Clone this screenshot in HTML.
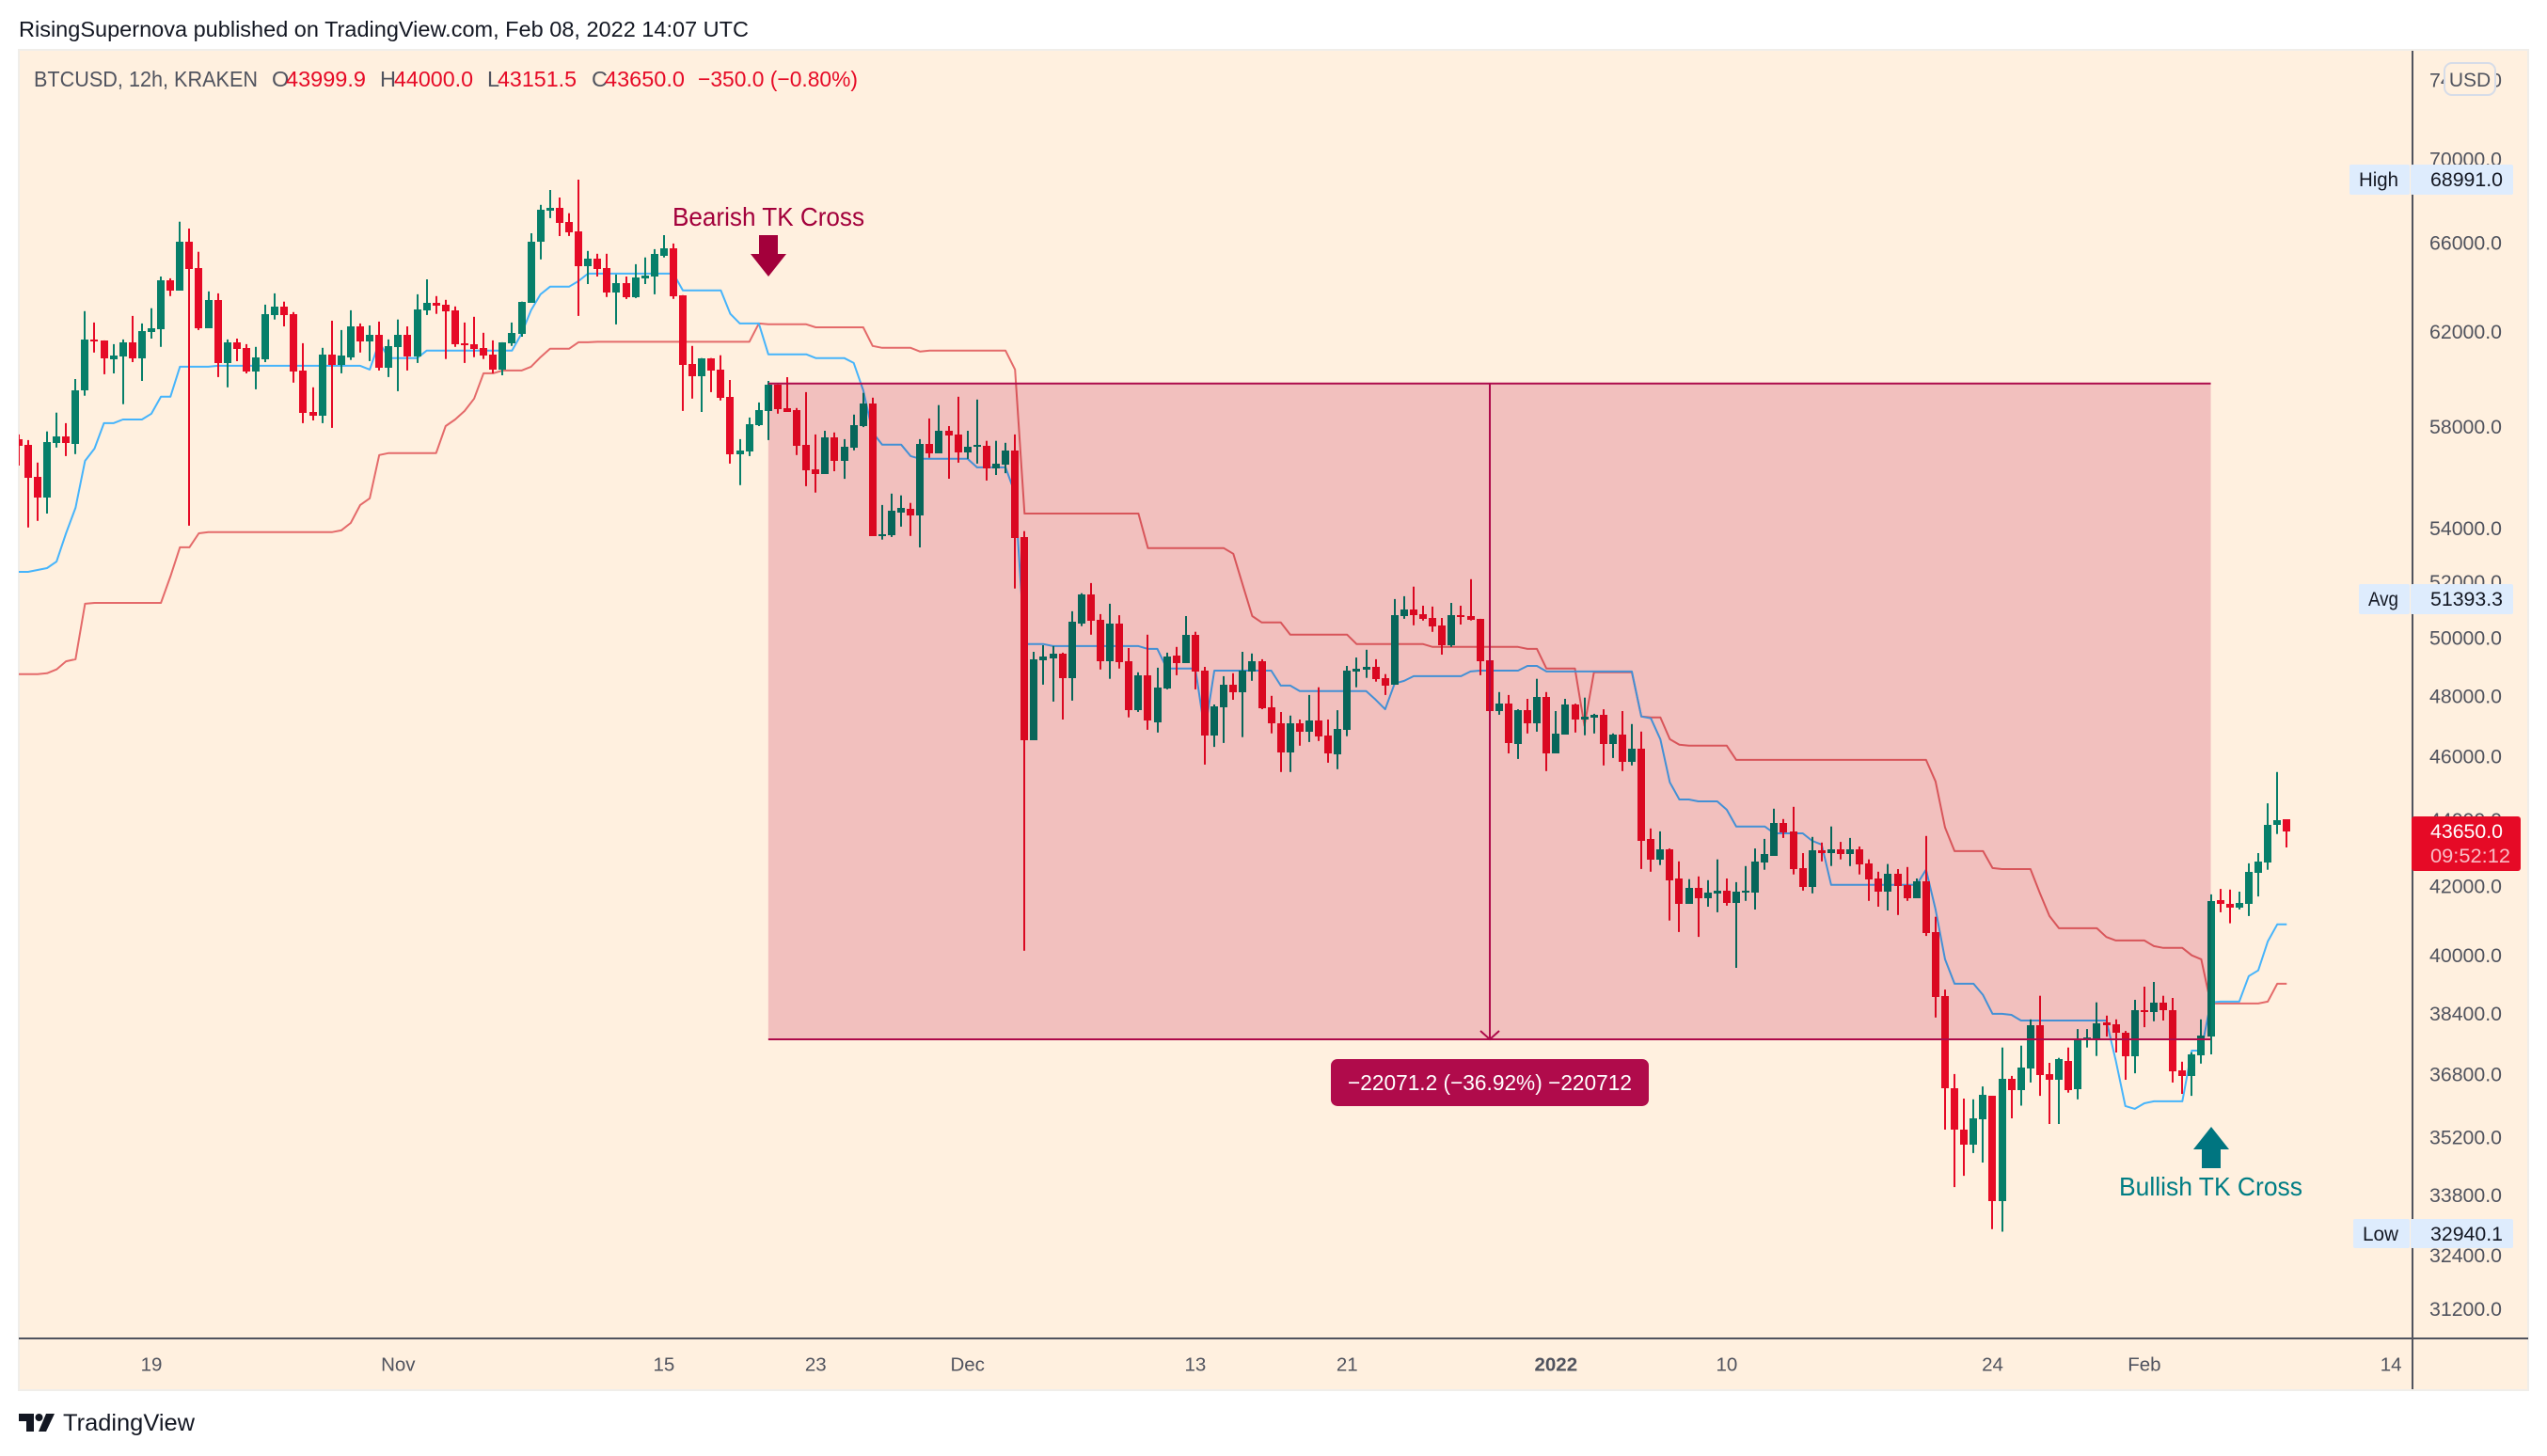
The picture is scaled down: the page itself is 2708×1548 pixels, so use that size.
<!DOCTYPE html>
<html lang="en">
<head>
<meta charset="utf-8">
<title>BTCUSD 12h chart</title>
<style>
html,body{margin:0;padding:0;background:#fff;width:2708px;height:1548px;overflow:hidden}
svg{display:block}
text{font-family:"Liberation Sans",sans-serif}
</style>
</head>
<body>
<svg id="chart" xmlns="http://www.w3.org/2000/svg" width="2708" height="1548" viewBox="0 0 2708 1548">
  <defs>
    <clipPath id="plot-clip"><rect x="20" y="54" width="2545" height="1369"/></clipPath>
  </defs>
  <rect x="0" y="0" width="2708" height="1548" fill="#ffffff"/>
  <text x="20" y="39" font-size="23.5" fill="#131722" textLength="776" lengthAdjust="spacingAndGlyphs">RisingSupernova published on TradingView.com, Feb 08, 2022 14:07 UTC</text>
  <rect x="20" y="53" width="2668" height="1425" fill="#FFF0DF" stroke="#F0EEEA" stroke-width="2"/>
  <g id="lines-layer" clip-path="url(#plot-clip)"></g>
  <g id="candles-layer" clip-path="url(#plot-clip)"></g>
  <g id="measure-layer"></g>

  <g font-size="23.5">
    <text x="36" y="92" fill="#50535E" textLength="238" lengthAdjust="spacingAndGlyphs">BTCUSD, 12h, KRAKEN</text>
    <text x="289" y="92" fill="#50535E">O</text>
    <text x="304" y="92" fill="#E60A26" textLength="85" lengthAdjust="spacingAndGlyphs">43999.9</text>
    <text x="404" y="92" fill="#50535E">H</text>
    <text x="419" y="92" fill="#E60A26" textLength="84" lengthAdjust="spacingAndGlyphs">44000.0</text>
    <text x="518" y="92" fill="#50535E">L</text>
    <text x="529" y="92" fill="#E60A26" textLength="84" lengthAdjust="spacingAndGlyphs">43151.5</text>
    <text x="629" y="92" fill="#50535E">C</text>
    <text x="643" y="92" fill="#E60A26" textLength="85" lengthAdjust="spacingAndGlyphs">43650.0</text>
    <text x="742" y="92" fill="#E60A26" textLength="170" lengthAdjust="spacingAndGlyphs">−350.0 (−0.80%)</text>
  </g>

  <text x="715" y="240" font-size="28" fill="#A3003B" textLength="204" lengthAdjust="spacingAndGlyphs">Bearish TK Cross</text>
  <polygon points="807,250 827,250 827,270 836,270 817,294 798,270 807,270" fill="#A3003B"/>
  <polygon points="2351,1198 2370,1222 2361,1222 2361,1242 2341,1242 2341,1222 2332,1222" fill="#007580"/>
  <text x="2253" y="1271" font-size="28" fill="#007D84" textLength="195" lengthAdjust="spacingAndGlyphs">Bullish TK Cross</text>

  <line x1="2565" y1="54" x2="2565" y2="1477" stroke="#50535E" stroke-width="2"/>
  <line x1="20" y1="1423" x2="2688" y2="1423" stroke="#50535E" stroke-width="2"/>
  <g id="y-axis-layer"></g>
  <g id="x-axis-layer"></g>

  <g>
    <rect x="2599" y="67" width="54" height="34" rx="8" fill="#FFF0DF" stroke="#D6DCE8" stroke-width="2"/>
    <text x="2626" y="92" font-size="21" fill="#50535E" text-anchor="middle">USD</text>
  </g>

  <g>
    <rect x="2498" y="175" width="64" height="32" rx="2" fill="#DEECFD"/>
    <rect x="2563" y="175" width="109" height="32" rx="2" fill="#DEECFD"/>
    <text x="2508" y="198" font-size="21" fill="#131722" textLength="42" lengthAdjust="spacingAndGlyphs">High</text>
    <text x="2584" y="198" font-size="21" fill="#131722" textLength="77" lengthAdjust="spacingAndGlyphs">68991.0</text>
  </g>
  <g>
    <rect x="2508" y="621" width="54" height="32" rx="2" fill="#DEECFD"/>
    <rect x="2563" y="621" width="109" height="32" rx="2" fill="#DEECFD"/>
    <text x="2518" y="644" font-size="21" fill="#131722" textLength="32" lengthAdjust="spacingAndGlyphs">Avg</text>
    <text x="2584" y="644" font-size="21" fill="#131722" textLength="77" lengthAdjust="spacingAndGlyphs">51393.3</text>
  </g>
  <g>
    <rect x="2502" y="1296" width="60" height="31" rx="2" fill="#DEECFD"/>
    <rect x="2563" y="1296" width="109" height="31" rx="2" fill="#DEECFD"/>
    <text x="2512" y="1319" font-size="21" fill="#131722" textLength="38" lengthAdjust="spacingAndGlyphs">Low</text>
    <text x="2584" y="1319" font-size="21" fill="#131722" textLength="77" lengthAdjust="spacingAndGlyphs">32940.1</text>
  </g>
  <g>
    <rect x="2564" y="868" width="116" height="58" rx="3" fill="#E60A26"/>
    <text x="2584" y="891" font-size="21" fill="#ffffff" textLength="77" lengthAdjust="spacingAndGlyphs">43650.0</text>
    <text x="2584" y="917" font-size="21" fill="#F9BCC4" textLength="85" lengthAdjust="spacingAndGlyphs">09:52:12</text>
  </g>

  <g>
    <path d="M20 1503H36V1522H28V1511H20Z" fill="#131722"/>
    <circle cx="41.5" cy="1507" r="4" fill="#131722"/>
    <polygon points="49,1503 58,1503 49,1522 41,1522" fill="#131722"/>
    <text x="67" y="1521" font-size="25" fill="#131722" textLength="140" lengthAdjust="spacingAndGlyphs">TradingView</text>
  </g>
</svg>
<script>
const opens = [
57490,57270,55990,55190,57340,57610,57300,59500,61660,61620,
60820,60940,61540,60860,61990,62110,64280,63820,66050,64840,
62150,63400,60650,61540,61300,60290,60820,62730,63110,62780,
60330,58600,58450,61020,60570,60900,62230,61580,61870,60450,
61340,61870,60940,62940,63280,63190,62940,61500,61460,61300,
61020,60370,61500,61910,63280,66050,67510,67640,66980,66530,
64930,65270,64840,63740,64150,63530,64370,64450,65400,65750,
63610,60610,60090,60860,60370,59230,56890,57000,58060,58640,
59740,58760,58680,57270,56280,56100,57570,56620,57150,58020,
58950,53710,53740,54600,54750,54490,57300,56930,57830,57680,
56960,57190,57230,56320,56470,57040,53670,46530,49220,49280,
49450,48610,50500,51550,50640,49180,50500,49180,47520,48700,
47120,48260,49380,49120,50110,48860,46690,47620,48380,48130,
48830,49180,47620,47090,46130,47090,46810,47180,46690,46070,
46870,48830,48900,48990,48610,48380,50770,51010,50840,50700,
50440,49740,50800,50770,50670,49220,47490,47740,46410,47520,
47090,47970,46100,46720,47710,47210,47280,47370,46410,46720,
45830,46250,43410,42790,43090,42220,41480,41940,41640,41780,
41860,41500,41800,41800,42700,42900,43900,43640,42530,41970,
43070,42980,43090,42950,43090,42670,42220,41830,42370,42030,
41640,42140,40660,38880,36430,35390,35020,35650,36240,33660,
36670,36390,36950,38080,36800,36650,37140,36410,37680,37730,
38160,38110,37880,37270,38490,38440,38700,38490,36900,36750,
37290,37780,41590,41480,41370,41480,42390,42700,43850,43999.9
];
const highs = [
57680,57450,56550,57800,58570,58140,59970,62900,62400,61620,
61460,61660,62690,62360,63030,64450,64370,66980,66660,65580,
63780,63690,61660,61700,61460,61340,63190,63690,63320,62860,
61500,59620,61300,62480,62070,62940,62360,62270,62440,61660,
62530,62230,63650,64320,63570,63400,63110,62400,62650,61950,
61620,61540,62400,63320,66440,67780,68490,68130,67380,68991,
65620,65490,65490,64540,64450,65010,65320,65700,66350,65960,
63610,61380,60860,60860,60980,59930,57490,58370,58990,59890,
59740,60050,58760,59420,57680,57830,57760,57490,58490,59390,
59190,54890,55330,55260,54970,57490,58330,58880,58020,59230,
57830,59110,57420,57420,57340,57680,53890,49510,49740,49710,
49480,50940,51590,51960,50840,51210,50800,49640,48800,50110,
48960,49480,49680,50770,50210,48990,47710,48670,48770,49510,
49450,49250,48000,47460,47340,47210,48030,48290,47210,47520,
49020,49310,49580,49250,48740,51380,51480,51830,51140,51110,
50700,51240,51140,52100,50670,49220,48130,48030,47550,47900,
48580,48130,47490,47900,47740,47940,47400,47550,46750,47490,
47060,46810,43730,43640,43120,42730,42200,42280,42170,42790,
42220,42110,42590,43120,43410,44340,44020,44400,42980,43470,
43300,43790,43320,43440,43180,42790,42420,42650,42500,42560,
42220,43500,41100,39050,36800,36170,36150,36480,36240,37490,
36750,37540,38240,38880,37090,37220,37490,37980,37980,38700,
38340,38240,37930,38770,39130,39260,38880,38820,37120,37360,
38240,41750,41910,41890,41830,42670,42980,44510,45500,44000
];
const lows = [
56430,54030,54280,54560,57150,56810,56890,59270,61100,60170,
60210,58920,60690,59890,61700,61340,63570,63820,54100,62070,
62150,60050,59620,60730,60210,59540,60690,62530,62230,59820,
58140,58250,58140,57950,60210,60780,61100,60730,60330,60050,
59460,60330,60650,62730,62780,60820,61340,60650,60900,60820,
60210,60130,61380,61780,63280,65230,67150,66310,66310,62690,
64110,64450,63530,62320,63440,63480,64110,63650,65320,63440,
58640,59150,58600,59420,59070,56510,55660,56810,58020,57450,
58530,58600,56850,55620,55370,56100,56210,55910,57040,57980,
53710,53570,53670,54060,53710,53280,56740,56930,55910,56550,
56700,56510,55840,56060,56130,51760,40130,46530,48380,47810,
47210,47840,50410,50110,48900,48580,48930,47280,47460,46870,
46780,48220,48700,49120,48220,45740,46310,46440,47870,46630,
48510,47550,46750,45500,45500,46350,46470,46500,45800,45590,
46660,48290,48610,48480,48030,48380,50670,50440,50610,50210,
49410,49680,50470,50610,48700,47490,47370,46100,45920,46750,
46810,45530,46100,46720,46780,46690,46750,45710,45950,45530,
45710,42500,42420,42620,40990,40660,41480,40520,41390,41230,
41420,39650,41560,41310,42480,42900,43440,42340,41860,41780,
42730,42590,42790,42590,42340,41560,41390,41280,41150,41560,
41640,40550,38290,35390,33990,34260,34810,34580,33000,32940.1,
35670,35990,36580,36240,35530,35530,36320,36150,37490,37270,
37780,37360,36650,36820,38030,38190,38210,36580,36290,36240,
37070,37310,41230,40910,41310,41120,41690,42480,43560,43151.5
];
const closes = [
57230,55950,55190,57380,57610,57340,59500,61660,61580,60860,
60980,61540,60860,62030,62150,64280,63820,66050,64800,62150,
63400,60650,61540,61260,60290,60900,62780,63110,62730,60290,
58570,58450,61020,60570,60980,62230,61580,61870,60450,61380,
61870,60940,62980,63280,63150,62900,61460,61420,61260,60980,
60370,61540,61950,63320,66050,67550,67640,66930,66480,64930,
65270,64800,63740,64150,63530,64410,64500,65490,65750,63570,
60570,60090,60860,60330,59190,56890,57040,58100,58680,59740,
58720,58600,57230,56250,56100,57570,56620,57190,58060,58950,
53710,53780,54670,54780,54490,57300,56930,57830,57640,56960,
57190,57270,56320,56510,57040,53640,46530,49250,49340,49450,
48610,50570,51550,50610,49180,50500,49150,47520,48700,47180,
48290,49340,49120,50110,48830,46690,47650,48380,48130,48860,
49180,47590,47090,46130,47090,46810,47180,46660,46100,46900,
48860,48930,48990,48580,48350,50800,51010,50800,50670,50410,
49740,50800,50740,50640,49180,47490,47740,46440,47520,47090,
47970,46100,46750,47710,47210,47310,47370,46410,46720,45830,
46250,43350,42790,43090,42170,41480,41940,41640,41800,41860,
41500,41830,41860,42730,42950,43900,43610,42500,41970,43070,
42980,43090,42950,43090,42650,42200,41830,42370,42000,41640,
42140,40630,38850,36430,35390,35020,35670,36270,33660,36670,
36390,36970,38080,36770,36650,37190,36390,37680,37760,38140,
38080,37880,37270,38490,38440,38700,38490,36870,36750,37310,
37810,41560,41480,41370,41500,42420,42730,43850,43990,43650
];
const tenkanLine = [
52370,52370,52440,52510,52750,53810,54780,56620,57110,58140,
58140,58290,58290,58290,58530,59230,59230,60490,60490,60490,
60490,60530,60530,60530,60530,60530,60530,60530,60530,60530,
60530,60530,60530,60530,60530,60530,60530,60370,61540,60860,
60860,60860,60860,61180,61180,61180,61180,61180,61180,61180,
61180,61180,61180,61910,62940,63650,63990,63990,63990,64240,
64580,64580,64580,64580,64580,64580,64580,64580,64580,64580,
63820,63820,63820,63820,63820,62780,62360,62360,62360,61020,
61020,61020,61020,61020,60860,60860,60860,60860,60650,59500,
57760,57270,57270,57270,56810,56700,56700,56700,56700,56700,
56700,56360,56360,56360,56360,55330,49780,49780,49780,49710,
49710,49710,49710,49710,49710,49710,49710,49710,49710,49610,
49610,48930,48930,48930,48930,46810,48860,48860,48860,48860,
48860,48860,48860,48350,48350,48160,48160,48160,48160,48160,
48160,48160,48160,47870,47550,48420,48510,48670,48670,48670,
48670,48670,48670,48830,48860,48860,48860,48860,48860,49020,
49020,48830,48830,48830,48830,48830,48830,48830,48830,48830,
48830,47310,47250,46560,45170,44630,44630,44570,44570,44570,
44310,43790,43790,43790,43790,43580,43580,43580,43580,43350,
43240,42030,42030,42030,42030,42030,42030,42030,42030,42030,
42030,42480,41310,39890,39210,39210,39210,38900,38390,38390,
38360,38210,38210,38210,38210,38210,38210,38210,38210,38210,
38210,37140,35980,35910,36050,36100,36100,36100,36100,37410,
37410,38700,38720,38720,38720,39420,39580,40390,40880,40880
];
const kijunLine = [
48740,48740,48740,48770,48900,49180,49250,51210,51240,51240,
51240,51240,51240,51240,51240,51240,52200,53280,53280,53810,
53850,53850,53850,53850,53850,53850,53850,53850,53850,53850,
53850,53850,53850,53850,53920,54200,54890,55150,56850,56930,
56930,56930,56930,56930,56930,58020,58290,58640,59150,60210,
60210,60330,60330,60330,60490,60900,61260,61260,61260,61540,
61540,61560,61560,61560,61560,61560,61560,61560,61560,61560,
61560,61560,61560,61560,61560,61560,61560,61560,62360,62320,
62320,62320,62320,62320,62190,62190,62190,62190,62190,62190,
61380,61300,61300,61300,61300,61140,61180,61180,61180,61180,
61180,61180,61180,61180,61180,60370,54560,54560,54560,54560,
54560,54560,54560,54560,54560,54560,54560,54560,54560,53250,
53250,53250,53250,53250,53250,53250,53250,53250,53040,51890,
50770,50540,50540,50540,50110,50110,50110,50110,50110,50110,
50110,49780,49780,49780,49780,49780,49780,49780,49780,49680,
49680,49680,49680,49680,49680,49680,49680,49680,49680,49610,
49610,48930,48930,48930,48930,47000,48800,48800,48800,48800,
48800,47310,47280,47280,46560,46380,46350,46350,46350,46350,
46350,45890,45890,45890,45890,45890,45890,45890,45890,45890,
45890,45890,45890,45890,45890,45890,45890,45890,45890,45890,
45890,45890,45200,43760,43040,43040,43040,43040,42530,42500,
42500,42500,42500,41780,41120,40770,40770,40770,40770,40770,
40520,40420,40420,40420,40420,40260,40210,40210,40210,40000,
39890,38670,38670,38670,38670,38670,38670,38720,39210,39210
];
const yTickValues = [74000,70000,66000,62000,58000,54000,52000,50000,48000,46000,44000,42000,40000,38400,36800,35200,33800,32400,31200];
const xTickLabels = ['19','Nov','15','23','Dec','13','21','2022','10','24','Feb','14'];
const xTickDays = [0,13,27,35,43,55,63,74,83,97,105,118];
const firstBarDay = -7;
const barsPerDay = 2;
const measureTopPrice = 59780;
const measureBottomPrice = 37708.8;
const measureStartBar = 79;
const measureEndBar = 231;
const measureLabel = '−22071.2 (−36.92%) −220712';

const SVG_NS = 'http://www.w3.org/2000/svg';
function yScale(price){ return 169 + 1513 * Math.log(70000 / price); }
function xFromDay(day){ return 161 + 20.18 * day; }
function xFromBar(i){ return xFromDay(firstBarDay + i / barsPerDay); }
function make(tag, parent){
  const el = document.createElementNS(SVG_NS, tag);
  parent.appendChild(el);
  return el;
}

const linesLayer = document.getElementById('lines-layer');
function drawLine(values, color, name){
  const p = make('polyline', linesLayer);
  
  
  p.setAttribute('points', values.map((v, i) => xFromBar(i).toFixed(1) + ',' + yScale(v).toFixed(1)).join(' '));
  p.setAttribute('fill', 'none');
  p.setAttribute('stroke', color);
  p.setAttribute('stroke-width', '2');
  p.setAttribute('stroke-linejoin', 'round');
}
drawLine(kijunLine, '#E46A6A', 'kijun-line');
drawLine(tenkanLine, '#46B4FB', 'tenkan-line');

const candlesLayer = document.getElementById('candles-layer');
opens.forEach((o, i) => {
  const c = closes[i];
  const color = c >= o ? '#077F6A' : '#E60A26';
  const cx = Math.round(xFromBar(i));
  const wickTop = yScale(highs[i]);
  const wickBottom = yScale(lows[i]);
  const bodyTop = Math.round(yScale(Math.max(o, c)));
  const bodyBottom = Math.round(yScale(Math.min(o, c)));
  const wick = make('rect', candlesLayer);
  
  
  wick.setAttribute('x', cx - 1);
  wick.setAttribute('y', wickTop.toFixed(1));
  wick.setAttribute('width', 2);
  wick.setAttribute('height', (wickBottom - wickTop).toFixed(1));
  wick.setAttribute('fill', color);
  const body = make('rect', candlesLayer);
  
  
  body.setAttribute('x', cx - 4);
  body.setAttribute('y', bodyTop);
  body.setAttribute('width', 8);
  body.setAttribute('height', Math.max(2, bodyBottom - bodyTop));
  body.setAttribute('fill', color);
});

const measureLayer = document.getElementById('measure-layer');
const mx1 = xFromBar(measureStartBar);
const mx2 = xFromBar(measureEndBar);
const mxc = Math.round((mx1 + mx2) / 2);
const myTop = yScale(measureTopPrice);
const myBottom = yScale(measureBottomPrice);
const mFill = make('rect', measureLayer);


mFill.setAttribute('x', mx1);
mFill.setAttribute('y', myTop);
mFill.setAttribute('width', mx2 - mx1);
mFill.setAttribute('height', myBottom - myTop);
mFill.setAttribute('fill', 'rgb(242,204,217)');
mFill.style.mixBlendMode = 'multiply';
function measureStroke(el){
  el.setAttribute('stroke', '#AD0A4A');
  el.setAttribute('stroke-width', '2');
  el.setAttribute('fill', 'none');
}
const mTop = make('line', measureLayer);


mTop.setAttribute('x1', mx1);
mTop.setAttribute('x2', mx2);
mTop.setAttribute('y1', myTop);
mTop.setAttribute('y2', myTop);
measureStroke(mTop);
const mBottom = make('line', measureLayer);


mBottom.setAttribute('x1', mx1);
mBottom.setAttribute('x2', mx2);
mBottom.setAttribute('y1', myBottom);
mBottom.setAttribute('y2', myBottom);
measureStroke(mBottom);
const mV = make('line', measureLayer);


mV.setAttribute('x1', mxc);
mV.setAttribute('x2', mxc);
mV.setAttribute('y1', myTop);
mV.setAttribute('y2', myBottom);
measureStroke(mV);
const mHead = make('polyline', measureLayer);


mHead.setAttribute('points', (mxc - 10) + ',' + (myBottom - 9) + ' ' + mxc + ',' + myBottom + ' ' + (mxc + 10) + ',' + (myBottom - 9));
measureStroke(mHead);
const mBox = make('rect', measureLayer);


mBox.setAttribute('x', mxc - 169);
mBox.setAttribute('y', myBottom + 21);
mBox.setAttribute('width', 338);
mBox.setAttribute('height', 50);
mBox.setAttribute('rx', 7);
mBox.setAttribute('fill', '#B00B4B');
const mText = make('text', measureLayer);


mText.setAttribute('x', mxc - 151);
mText.setAttribute('y', myBottom + 54);
mText.setAttribute('font-size', '23.5');
mText.setAttribute('fill', '#ffffff');
mText.setAttribute('textLength', '302');
mText.setAttribute('lengthAdjust', 'spacingAndGlyphs');
mText.textContent = measureLabel;

const yAxisLayer = document.getElementById('y-axis-layer');
yTickValues.forEach(v => {
  const t = make('text', yAxisLayer);
  
  
  t.setAttribute('x', 2583);
  t.setAttribute('y', (yScale(v) + 7.5).toFixed(1));
  t.setAttribute('font-size', '21');
  t.setAttribute('fill', '#50535E');
  t.setAttribute('textLength', '77');
  t.setAttribute('lengthAdjust', 'spacingAndGlyphs');
  t.textContent = v.toFixed(1);
});

const xAxisLayer = document.getElementById('x-axis-layer');
xTickLabels.forEach((label, i) => {
  const t = make('text', xAxisLayer);
  
  
  t.setAttribute('x', xFromDay(xTickDays[i]).toFixed(1));
  t.setAttribute('y', 1457.5);
  t.setAttribute('font-size', '20.5');
  t.setAttribute('fill', '#50535E');
  t.setAttribute('text-anchor', 'middle');
  if (label === '2022') t.setAttribute('font-weight', 'bold');
  t.textContent = label;
});
</script>
</body>
</html>
